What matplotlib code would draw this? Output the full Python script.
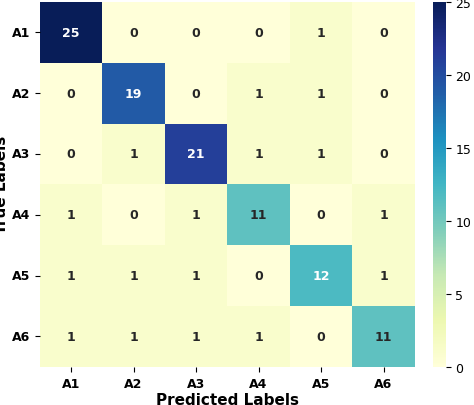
import matplotlib
matplotlib.use("Agg")
import matplotlib.pyplot as plt
import seaborn as sns
import numpy as np

labels = ["A1", "A2", "A3", "A4", "A5", "A6"]
cm = np.array([
    [25, 0, 0, 0, 1, 0],
    [0, 19, 0, 1, 1, 0],
    [0, 1, 21, 1, 1, 0],
    [1, 0, 1, 11, 0, 1],
    [1, 1, 1, 0, 12, 1],
    [1, 1, 1, 1, 0, 11],
])

fig = plt.figure(figsize=(4.74, 4.06), dpi=100)
ax = fig.add_axes([0.084, 0.094, 0.791, 0.899])
cax = fig.add_axes([0.913, 0.094, 0.027, 0.899])
sns.heatmap(cm, annot=True, fmt="d", cmap="YlGnBu", vmin=0, vmax=25,
            xticklabels=labels, yticklabels=labels, ax=ax, cbar_ax=cax,
            annot_kws={"fontsize": 9, "fontweight": "bold"})
ax.set_xlabel("Predicted Labels", fontsize=11, fontweight="bold", labelpad=2)
ax.set_ylabel("True Labels", fontsize=11, fontweight="bold", labelpad=2)
for t in ax.get_xticklabels() + ax.get_yticklabels():
    t.set_fontweight("bold")
    t.set_fontsize(9)
ax.tick_params(axis="y", rotation=0)
cax.tick_params(labelsize=9)
fig.savefig("out.png", dpi=100)
